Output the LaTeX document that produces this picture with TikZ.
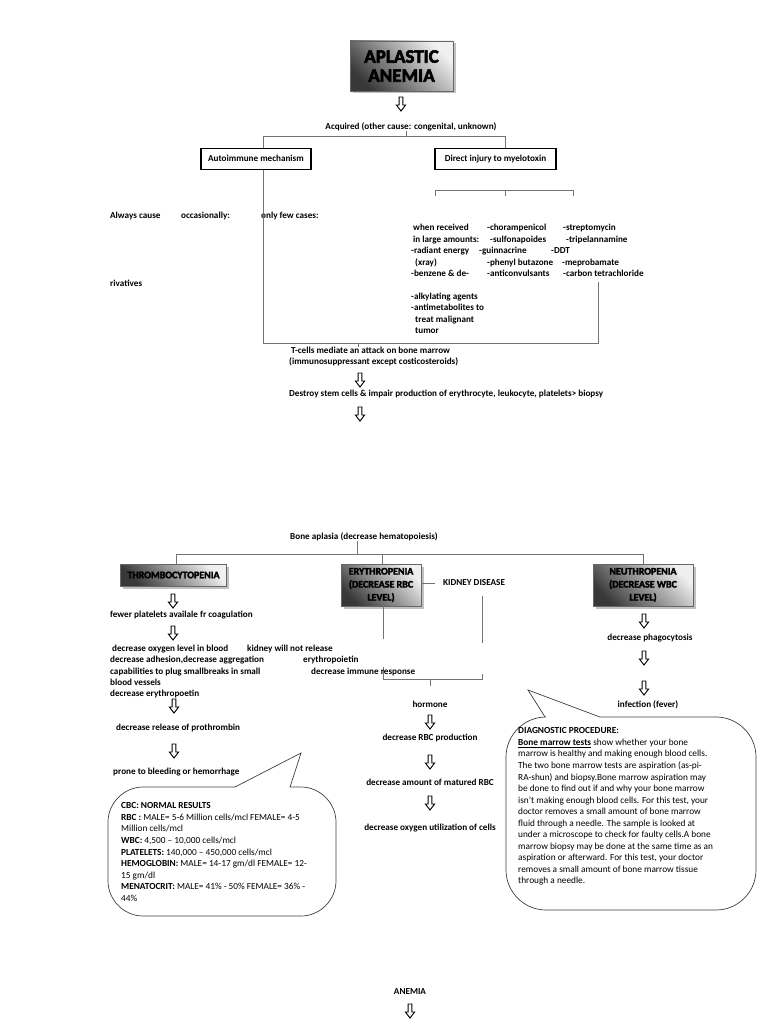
\documentclass[tikz,border=0pt]{standalone}
\usepackage{fontspec}
\setmainfont{Carlito}
\newfontfamily\titlefont{Carlito}[FakeBold=3]
\usetikzlibrary{shadows,calc}
\begin{document}
\begin{tikzpicture}[x=1pt,y=-1pt,
 tb/.style={font=\bfseries\fontsize{9.15}{11}\selectfont, inner sep=0pt, text height=6.4pt, text depth=1.9pt},
 tl/.style={tb, anchor=west},
 gline/.style={draw=black!55, line width=0.7pt},
 gbox/.style={draw=black!60, line width=0.5pt, shading=axis, top color=black!6, middle color=black!34, bottom color=black!78, shading angle=-45,
   drop shadow={shadow xshift=2.5pt, shadow yshift=-2.5pt, opacity=0.4, fill=black!60},
   font=\titlefont\bfseries\fontsize{10}{13}\selectfont, align=center, inner sep=0pt},
 bbox/.style={draw=black, line width=1.4pt, tb, minimum height=21pt},
 hdown/.pic={\draw[line width=0.95pt, fill=white, line join=miter] (-1.8,-7) -- (1.8,-7) -- (1.8,1) -- (4.6,1) -- (0,7) -- (-4.6,1) -- (-1.8,1) -- cycle;},
 callout/.style={draw=black!75, line width=0.7pt},
 ctext/.style={font=\fontsize{9.3}{11.55}\selectfont, align=left, inner sep=0pt, anchor=north west}
]
\fill[white] (0,0) rectangle (768,1024);
\useasboundingbox (0,0) rectangle (768,1024);

% title
\node[gbox, minimum width=103pt, minimum height=50pt, font=\titlefont\bfseries\fontsize{19}{19}\selectfont] (title) at (401.5,66) {APLASTIC\\ANEMIA};
\pic at (401,104) {hdown};
\node[tb] (acq) at (411,127) {Acquired (other cause: congenital, unknown)};

\node[bbox, minimum width=110pt] (auto) at (256,159) {Autoimmune mechanism};
\node[bbox, minimum width=121pt] (inj) at (495.5,159) {Direct injury to myelotoxin};

\coordinate (hL) at (263,136);
\coordinate (hR) at (505,136);
\coordinate (hT) at (406,136);
\draw[gline] (acq.south -| hT) -- (hT);
\draw[gline] (auto.north -| hL) -- (hL) -- (hR) -- (inj.north -| hR);

% bracket under direct injury
\coordinate (b1) at (435,190);
\coordinate (b2) at (573,190);
\coordinate (b3) at (505,190);
\draw[gline] ($(b1)+(0,6)$) -- (b1) -- (b2) -- ($(b2)+(0,6)$);
\draw[gline] (b3) -- ++(0,6);

% left row
\node[tl] (alw) at (110,216) {Always cause};
\node[tl] (occ) at (181,216) {occasionally:};
\node[tl] (few) at (261,216) {only few cases:};
\node[tl] (riv) at (110,284) {rivatives};

% drug list
\node[tl] (r11) at (413,228.5) {when received};
\node[tl] (r12) at (487,228.5) {-chorampenicol};
\node[tl] (r13) at (563,228.5) {-streptomycin};
\node[tl] (r21) at (413,240) {in large amounts:};
\node[tl] (r22) at (490,240) {-sulfonapoides};
\node[tl] (r23) at (566,240) {-tripelannamine};
\node[tl] (r31) at (411,251.5) {-radiant energy};
\node[tl] (r32) at (479,251.5) {-guinnacrine};
\node[tl] (r33) at (551,251.5) {-DDT};
\node[tl] (r41) at (415,263) {(xray)};
\node[tl] (r42) at (487,263) {-phenyl butazone};
\node[tl] (r43) at (562,263) {-meprobamate};
\node[tl] (r51) at (411,274.5) {-benzene \& de-};
\node[tl] (r52) at (487,274.5) {-anticonvulsants};
\node[tl] (r53) at (563,274.5) {-carbon tetrachloride};
\node[tl] (r61) at (411,297) {-alkylating agents};
\node[tl] (r71) at (411,308.5) {-antimetabolites to};
\node[tl] (r81) at (415,320) {treat malignant};
\node[tl] (r91) at (415,331.5) {tumor};

% big bracket
\coordinate (cL) at (263,343);
\coordinate (cR) at (598,343);
\coordinate (cT) at (358,343);
\draw[gline] (auto.south -| cL) -- (cL) -- (cR) -- ($(cR)+(0,-61)$);
\node[tl] (tc1) at (291,351) {T-cells mediate an attack on bone marrow};
\node[tl] (tc2) at (289,362) {(immunosuppressant except costicosteroids)};
\draw[gline] (cT) -- ++(0,4);
\pic at (360,380) {hdown};
\node[tl] (des) at (289,394) {Destroy stem cells \& impair production of erythrocyte, leukocyte, platelets> biopsy};
\pic at (360,414) {hdown};

% bone aplasia
\node[tl] (bone) at (290,537) {Bone aplasia (decrease hematopoiesis)};
\node[gbox, minimum width=106pt, minimum height=22pt] (thr) at (173.5,575) {THROMBOCYTOPENIA};
\node[gbox, minimum width=80pt, minimum height=42pt] (ery) at (381,585) {ERYTHROPENIA\\(DECREASE RBC\\LEVEL)};
\node[gbox, minimum width=100pt, minimum height=42pt] (neu) at (643,585) {NEUTHROPENIA\\(DECREASE WBC\\LEVEL)};
\coordinate (dT) at (357,554);
\coordinate (dL) at (176,554);
\coordinate (dM) at (382,554);
\coordinate (dR) at (643,554);
\draw[gline] (bone.south -| dT) -- (dT);
\draw[gline] (thr.north -| dL) -- (dL) -- (dR) -- (neu.north -| dR);
\draw[gline] (dM) -- (ery.north -| dM);
\node[tl] (kid) at (443,583) {KIDNEY DISEASE};
\draw[gline] (kid.west -| ery.east) -- ($(kid.west)+(-8,0)$);

% erythropenia lines
\coordinate (eA) at (383,639);
\coordinate (eB) at (482,596);
\coordinate (eC) at (482,643);
\draw[gline] (ery.south -| eA) -- (eA);
\draw[gline] (eB) -- (eC);
\coordinate (fL) at (383,679);
\coordinate (fR) at (482,679);
\coordinate (fT) at (430,679);
\draw[gline] ($(fL)+(0,-12)$) -- (fL) -- (fR) -- ($(fR)+(0,-5)$);
\draw[gline] (fT) -- ++(0,7);

% thrombocytopenia column
\pic at (173,601) {hdown};
\node[tl] (t1) at (110,615) {fewer platelets availale fr coagulation};
\pic at (173,633) {hdown};
\node[tl] (t2) at (112,649) {decrease oxygen level in blood};
\node[tl] (t2b) at (247,649) {kidney will not release};
\node[tl] (t3) at (110,660.5) {decrease adhesion,decrease aggregation};
\node[tl] (t3b) at (303,660.5) {erythropoietin};
\node[tl] (t4) at (110,672) {capabilities to plug smallbreaks in small};
\node[tl] (t4b) at (311,672) {decrease immune response};
\node[tl] (t5) at (110,683) {blood vessels};
\node[tl] (t6) at (110,694.5) {decrease erythropoetin};
\pic at (174,706) {hdown};
\node[tl] (t7) at (116,728) {decrease release of prothrombin};
\pic at (174,751) {hdown};
\node[tl] (t8) at (113,772) {prone to bleeding or hemorrhage};

% erythropenia column
\node[tb] (m1) at (430,705) {hormone};
\pic at (430,722) {hdown};
\node[tb] (m2) at (430,738) {decrease RBC production};
\pic at (430,762) {hdown};
\node[tb] (m3) at (430,783) {decrease amount of matured RBC};
\pic at (430,803) {hdown};
\node[tb] (m4) at (430,828) {decrease oxygen utilization of cells};

% neuthropenia column
\pic at (644,621) {hdown};
\node[tb] (n1) at (650,638) {decrease phagocytosis};
\pic at (644,658) {hdown};
\pic at (644,688) {hdown};
\node[tb] (n2) at (648,705) {infection (fever)};

% CBC callout
\draw[callout] (235,787) -- (301,753) -- (290,787) -- (301,787)
  .. controls (320,787) and (336,803) .. (336,822) -- (336,881)
  .. controls (336,900) and (320,916) .. (301,916) -- (143,916)
  .. controls (124,916) and (108,900) .. (108,881) -- (108,822)
  .. controls (108,803) and (124,787) .. (143,787) -- cycle;
\node[ctext] (cbc) at (121,802.5) {\textbf{CBC: NORMAL RESULTS}\\
\textbf{RBC :} MALE= 5-6 Million cells/mcl FEMALE= 4-5\\
Million cells/mcl\\
\textbf{WBC:} 4,500 – 10,000 cells/mcl\\
\textbf{PLATELETS:} 140,000 – 450,000 cells/mcl\\
\textbf{HEMOGLOBIN:} MALE= 14-17 gm/dl FEMALE= 12-\\
15 gm/dl\\
\textbf{MENATOCRIT:} MALE= 41\% - 50\% FEMALE= 36\% -\\
44\%};

% diagnostic callout
\draw[callout] (545,717) -- (528,690) -- (600,717) -- (716,717)
  .. controls (738,717) and (756,735) .. (756,757) -- (756,870)
  .. controls (756,892) and (738,910) .. (716,910) -- (546,910)
  .. controls (524,910) and (506,892) .. (506,870) -- (506,757)
  .. controls (506,735) and (524,717) .. (546,717) -- cycle;
\node[ctext] (diag) at (518,727.5) {\textbf{DIAGNOSTIC PROCEDURE:}\\
\textbf{\underline{Bone marrow tests}} show whether your bone\\
marrow is healthy and making enough blood cells.\\
The two bone marrow tests are aspiration (as-pi-\\
RA-shun) and biopsy.Bone marrow aspiration may\\
be done to find out if and why your bone marrow\\
isn't making enough blood cells. For this test, your\\
doctor removes a small amount of bone marrow\\
fluid through a needle. The sample is looked at\\
under a microscope to check for faulty cells.A bone\\
marrow biopsy may be done at the same time as an\\
aspiration or afterward. For this test, your doctor\\
removes a small amount of bone marrow tissue\\
through a needle.};

% anemia
\node[tb] (ane) at (410,992) {ANEMIA};
\pic at (410,1011) {hdown};
\end{tikzpicture}
\end{document}
